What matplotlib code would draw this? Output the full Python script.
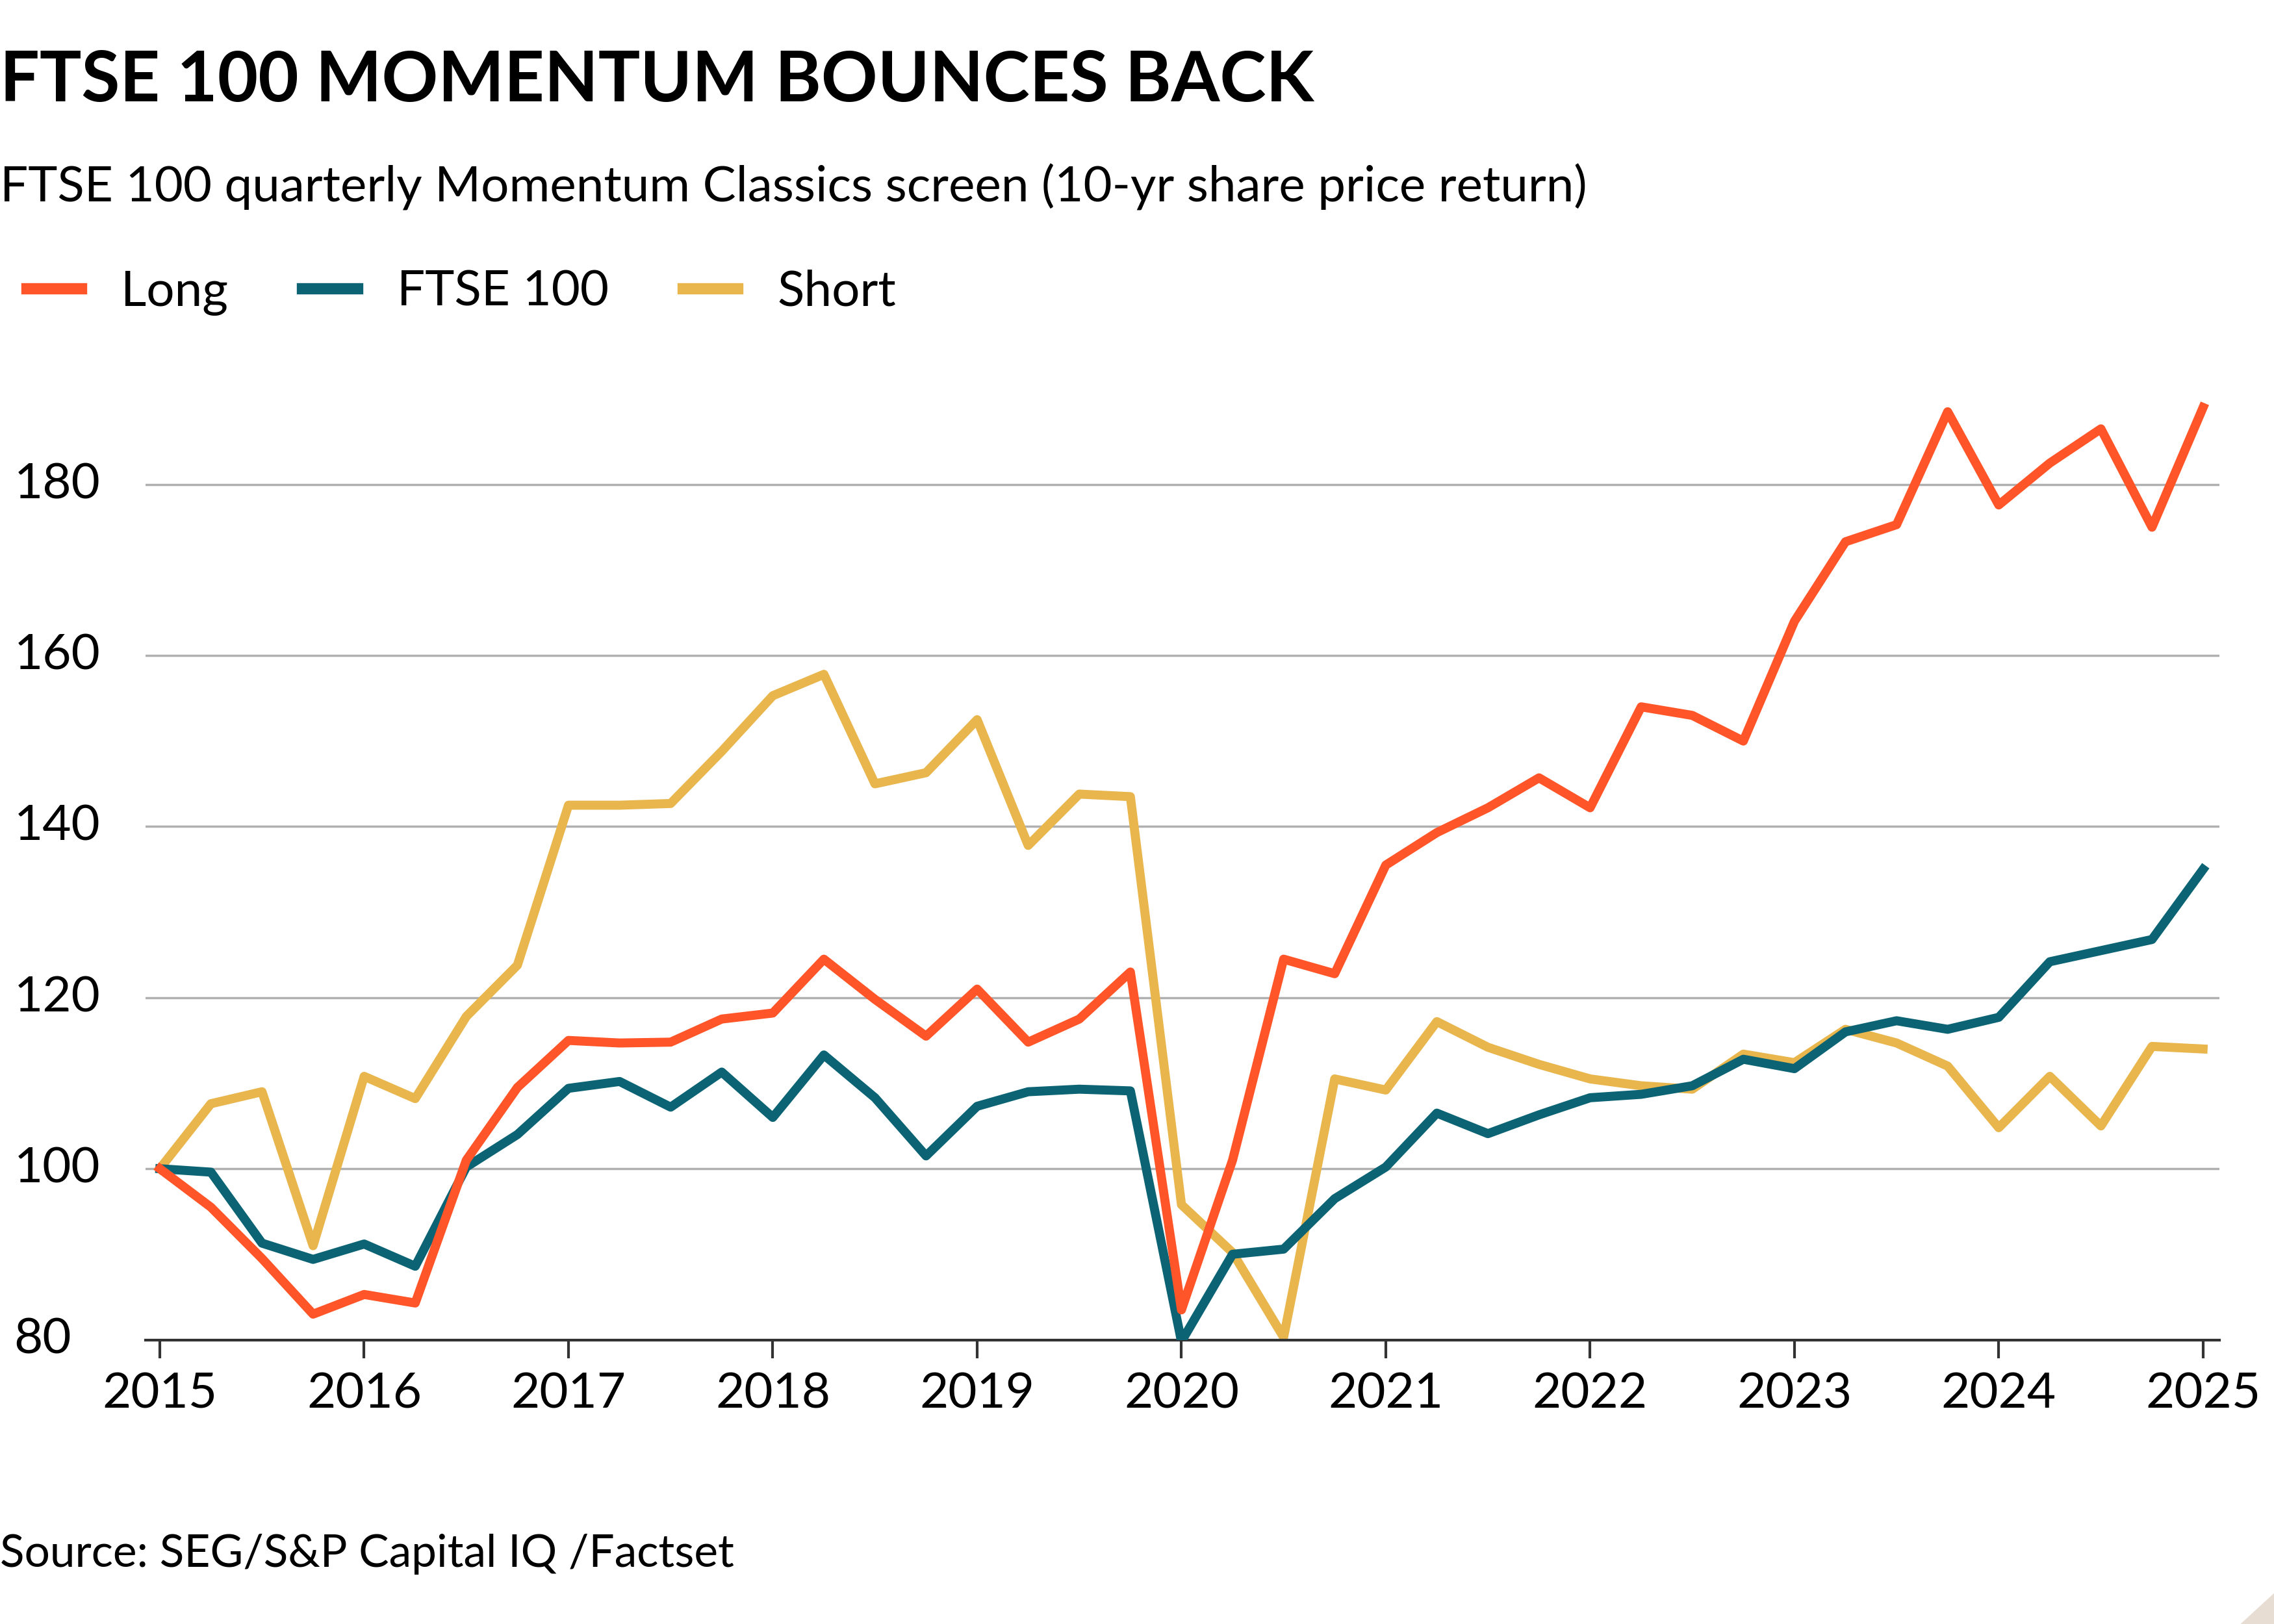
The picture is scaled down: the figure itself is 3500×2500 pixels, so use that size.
import numpy as np
import matplotlib.pyplot as plt
from matplotlib.lines import Line2D
from matplotlib.patches import Polygon

plt.rcParams['font.family'] = ['Lato', 'DejaVu Sans']

quarters = 2015 + np.arange(41) * 0.25

long_vals = [100, 95.5, 89.5, 83, 85.3, 84.3, 101, 109.5, 115, 114.7, 114.8, 117.5, 118.2,
             124.5, 119.8, 115.5, 121, 114.8, 117.5, 123, 83.5, 101, 124.5, 122.8, 135.5,
             139.3, 142.2, 145.7, 142.2, 154, 153, 150, 164, 173.3, 175.3, 188.5, 177.6,
             182.5, 186.5, 175, 189]
ftse_vals = [100, 99.6, 91.3, 89.4, 91.2, 88.6, 100.2, 104, 109.4, 110.2, 107.2, 111.3, 106,
             113.3, 108.3, 101.5, 107.3, 109, 109.3, 109.1, 79.8, 90, 90.6, 96.5, 100.2,
             106.5, 104.1, 106.3, 108.3, 108.7, 109.7, 112.8, 111.7, 116, 117.3, 116.3,
             117.7, 124.2, 125.5, 126.8, 135]
short_vals = [100, 107.6, 109, 91, 110.8, 108.2, 117.8, 123.8, 142.5, 142.5, 142.7, 148.8,
              155.3, 157.8, 145, 146.3, 152.5, 137.8, 143.8, 143.5, 95.8, 90.2, 80.3, 110.5,
              109.2, 117.2, 114.2, 112.2, 110.5, 109.7, 109.3, 113.4, 112.4, 116.3, 114.7,
              112, 104.8, 110.8, 105, 114.3, 114]

series_names = ['Long', 'FTSE 100', 'Short']
colors = ['#ff5528', '#0b6374', '#e8b64c']

fig = plt.figure(figsize=(14, 10), dpi=250, facecolor='white')
ax = fig.add_axes([0.064, 0.175, 0.912, 0.582])

ax.plot(quarters, ftse_vals, color=colors[1], lw=4, zorder=3)
ax.plot(quarters, short_vals, color=colors[2], lw=4, zorder=2)
ax.plot(quarters, long_vals, color=colors[0], lw=4, zorder=4)

ax.set_xlim(2015 - 0.07, 2025.08)
ax.set_ylim(80, 190.5)
ax.set_yticks([80, 100, 120, 140, 160, 180])
ax.set_xticks(range(2015, 2026))
ax.grid(axis='y', color='#b0b0b0', lw=1)
ax.set_axisbelow(True)
for s in ['top', 'right', 'left']:
    ax.spines[s].set_visible(False)
ax.spines['bottom'].set_color('#333333')
ax.spines['bottom'].set_linewidth(1.2)
ax.tick_params(axis='y', length=0, labelsize=22, pad=5)
ax.tick_params(axis='x', length=8, width=1.2, color='#333333', labelsize=22, pad=6)
for lab in ax.get_yticklabels():
    lab.set_horizontalalignment('left')
    lab.set_verticalalignment('center')
    lab.set_x(-0.058)

fig.text(0.0, 0.95, 'FTSE 100 MOMENTUM BOUNCES BACK', fontsize=31, fontweight='bold',
         va='center', ha='left')
fig.text(0.0, 0.885, 'FTSE 100 quarterly Momentum Classics screen (10-yr share price return)',
         fontsize=22, va='center', ha='left')
fig.text(0.0, 0.043, 'Source: SEG/S&P Capital IQ /Factset', fontsize=20, va='center', ha='left')

handles = [Line2D([], [], color=c, lw=5) for c in colors]
fig.legend(handles, series_names, loc='center left', bbox_to_anchor=(-0.008, 0.82), ncol=3,
           frameon=False, fontsize=22, handlelength=1.1, columnspacing=1.5, handletextpad=0.8)

fig.patches.append(Polygon([[1, 0], [1, 0.018], [0.986, 0]], closed=True,
                           transform=fig.transFigure, color='#e8ddd3'))

fig.savefig('out.png', dpi=250, facecolor='white')
